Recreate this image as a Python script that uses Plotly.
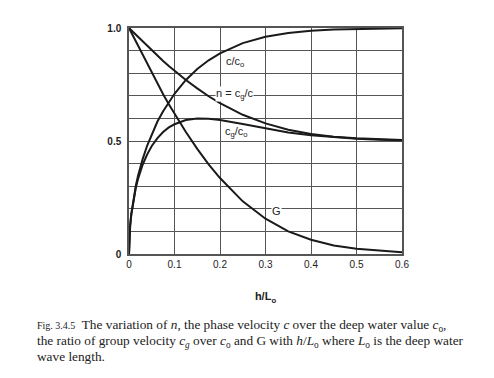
import plotly.graph_objects as go

# h/L0 values
h_L0 = [0, 0.001, 0.0025, 0.005, 0.01, 0.015, 0.02, 0.03, 0.04, 0.05, 0.0625, 0.075,
        0.0875, 0.1, 0.125, 0.15, 0.175, 0.2, 0.25, 0.3, 0.35, 0.4, 0.45, 0.5, 0.55, 0.6]
# c/c0
c_c0 = [0, 0.079, 0.125, 0.176, 0.248, 0.302, 0.347, 0.420, 0.480, 0.531, 0.586, 0.632,
        0.673, 0.709, 0.770, 0.819, 0.857, 0.888, 0.933, 0.961, 0.978, 0.988, 0.993, 0.996, 0.998, 0.999]
# n = cg/c
n_vals = [1.0, 0.998, 0.995, 0.990, 0.979, 0.969, 0.959, 0.939, 0.919, 0.900, 0.877, 0.854,
          0.832, 0.810, 0.770, 0.733, 0.698, 0.668, 0.616, 0.578, 0.550, 0.531, 0.519, 0.512, 0.507, 0.504]
# cg/c0
cg_c0 = [0, 0.079, 0.124, 0.174, 0.243, 0.293, 0.333, 0.395, 0.441, 0.478, 0.513, 0.540,
         0.560, 0.574, 0.593, 0.600, 0.598, 0.593, 0.575, 0.555, 0.538, 0.525, 0.516, 0.510, 0.506, 0.503]
# G
G_vals = [1.0, 0.996, 0.990, 0.979, 0.959, 0.938, 0.918, 0.878, 0.838, 0.800, 0.753, 0.707,
          0.663, 0.620, 0.540, 0.465, 0.397, 0.336, 0.233, 0.156, 0.100, 0.063, 0.038, 0.023, 0.014, 0.008]

x_ticks = [0, 0.1, 0.2, 0.3, 0.4, 0.5, 0.6]
x_tick_labels = ["0", "0.1", "0.2", "0.3", "0.4", "0.5", "0.6"]
y_ticks = [0, 0.1, 0.2, 0.3, 0.4, 0.5, 0.6, 0.7, 0.8, 0.9, 1.0]
y_tick_labels = ["<b>0</b>", "", "", "", "", "<b>0.5</b>", "", "", "", "", "<b>1.0</b>"]

fig = go.Figure()
for ys in [c_c0, n_vals, cg_c0, G_vals]:
    fig.add_trace(go.Scatter(x=h_L0, y=ys, mode="lines",
                             line=dict(color="#1a1a1a", width=2), showlegend=False,
                             hoverinfo="skip"))

grid = "#555555"
fig.update_xaxes(range=[0, 0.6], tickvals=x_ticks, ticktext=x_tick_labels,
                 showgrid=True, gridcolor=grid, gridwidth=1, zeroline=False,
                 showline=True, mirror=True, linecolor=grid, linewidth=1.5,
                 ticks="", tickfont=dict(family="Liberation Sans", size=10, color="#222"),
                 title=dict(text="<b>h/L<sub>o</sub></b>", font=dict(family="Liberation Sans", size=11, color="#222"),
                            standoff=24))
fig.update_yaxes(range=[0, 1.0], tickvals=y_ticks, ticktext=y_tick_labels,
                 showgrid=True, gridcolor=grid, gridwidth=1, zeroline=False,
                 showline=True, mirror=True, linecolor=grid, linewidth=1.5,
                 ticks="", ticklabelstandoff=4,
                 tickfont=dict(family="Liberation Sans", size=10, color="#222"))

lab_font = dict(family="Liberation Sans", size=11, color="#222")
labels = [
    (0.210, 0.848, "c/c<sub>o</sub>", "white"),
    (0.189, 0.708, "n = c<sub>g</sub>/c", "white"),
    (0.209, 0.540, "c<sub>g</sub>/c<sub>o</sub>", "rgba(0,0,0,0)"),
    (0.311, 0.190, "G", "white"),
]
for lx, ly, t, bg in labels:
    fig.add_annotation(x=lx, y=ly, text=t, showarrow=False, xanchor="left", yanchor="middle",
                       font=lab_font, bgcolor=bg, borderpad=0)

cap_font = dict(family="Liberation Serif", size=13.3, color="#222")
caption = [
    "<span style='font-size:10px'>Fig. 3.4.5</span>  The variation of <i>n</i>, the phase velocity <i>c</i> over the deep water value <i>c</i><sub>o</sub>,",
    "the ratio of group velocity <i>c</i><sub><i>g</i></sub> over <i>c</i><sub>o</sub> and G with <i>h</i>/<i>L</i><sub>o</sub> where <i>L</i><sub>o</sub> is the deep water",
    "wave length.",
]
cap_y = [325, 341, 356]
for t, py in zip(caption, cap_y):
    fig.add_annotation(xref="paper", yref="paper", x=(35 - 129) / 273, y=(254 - py) / 226,
                       text=t, showarrow=False, xanchor="left", yanchor="middle", font=cap_font)

# page body has an 8px margin; figure sized so it fits inside the window
fig.update_layout(width=486, height=370, margin=dict(l=121, r=92, t=20, b=124),
                  plot_bgcolor="white", paper_bgcolor="white")
fig.write_html("out.html")
